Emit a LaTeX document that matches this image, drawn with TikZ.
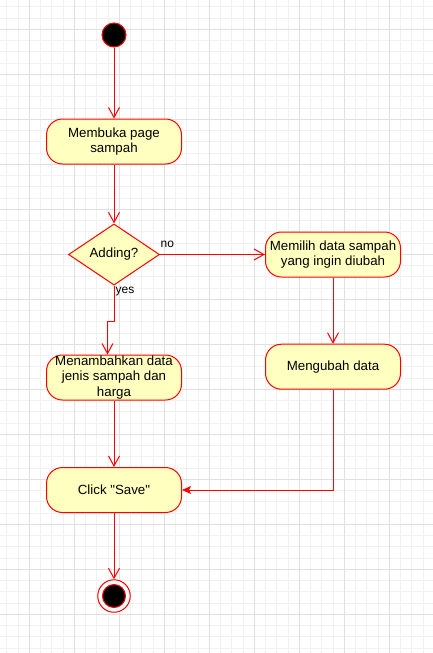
\documentclass[tikz,border=0pt]{standalone}
\usepackage{fontspec}
\setmainfont{Liberation Sans}
\usetikzlibrary{calc}
\usetikzlibrary{shapes.geometric,arrows.meta}
\usetikzlibrary{positioning}
\definecolor{actfill}{HTML}{FFFFC0}
\definecolor{minorgrid}{HTML}{F1F1F1}
\definecolor{majorgrid}{HTML}{E0E0E0}
\tikzstyle{act}=[rectangle, rounded corners=16pt, draw=red, fill=actfill, line width=1pt, minimum width=135pt, minimum height=45pt, align=center, inner sep=0pt, font=\fontsize{13.3}{15.5}\selectfont]
\tikzstyle{dec}=[diamond, draw=red, fill=actfill, line width=1pt, minimum width=91pt, minimum height=44pt, inner sep=0pt, font=\fontsize{13.3}{15.5}\selectfont]
\tikzstyle{ini}=[circle, draw=red, fill=black, line width=1pt, minimum size=24pt, inner sep=0pt]
\tikzstyle{fin}=[circle, draw=red, fill=white, line width=1pt, minimum size=32.5pt, inner sep=0pt]
\tikzstyle{flow}=[draw=red, line width=1pt, -{Straight Barb[length=10pt,width=11pt]}]
\tikzstyle{lbl}=[inner sep=0pt, font=\fontsize{12}{14}\selectfont]

\begin{document}
\begin{tikzpicture}[x=1pt, y=-1pt]
\useasboundingbox (0,0) rectangle (433,653);
% grid
\foreach \i in {0,...,38} \draw[minorgrid, line width=0.8pt] ({6.8+11.25*\i},0) -- ({6.8+11.25*\i},653);
\foreach \i in {0,...,57} \draw[minorgrid, line width=0.8pt] (0,{6.8+11.25*\i}) -- (433,{6.8+11.25*\i});
\foreach \i in {0,...,9} \draw[majorgrid, line width=0.8pt] ({29.3+45*\i},0) -- ({29.3+45*\i},653);
\foreach \i in {0,...,14} \draw[majorgrid, line width=0.8pt] (0,{29.3+45*\i}) -- (433,{29.3+45*\i});

\node[ini] (start) at (114,35) {};
\node[act] (page) at (114,141.5) {Membuka page\\sampah};
\node[dec] (add) at (114,254.5) {Adding?};
\node[act] (pilih) at (333,254.5) {Memilih data sampah\\yang ingin diubah};
\node[act] (ubah) at (333,366.7) {Mengubah data};
\node[act] (tambah) at (114,377.5) {Menambahkan data\\jenis sampah dan\\harga};
\node[act] (save) at (114,490) {Click \textquotedbl Save\textquotedbl};
\node[fin] (end) at (114,596) {};
\node[circle, draw=red, fill=black, line width=1pt, minimum size=23pt, inner sep=0pt] (endin) at (end) {};
\node[lbl] (no) at (167.3,244) {no};
\node[lbl] (yes) at (125,291.5) {yes};
\coordinate (yj) at (107.5,321.7);

\draw[flow] (start) -- (page);
\draw[flow] (page) -- (add);
\draw[flow] (add.east) -- (pilih.west);
\draw[flow] (add.south) |- (yj) -- (tambah.north -| yj);
\draw[flow] (pilih) -- (ubah);
\draw[draw=red, line width=1pt, -{Stealth[length=9pt,width=8pt,inset=2pt]}] (ubah.south) |- (save.east);
\draw[flow] (tambah) -- (save);
\draw[flow] (save) -- (end);

\end{tikzpicture}
\end{document}
